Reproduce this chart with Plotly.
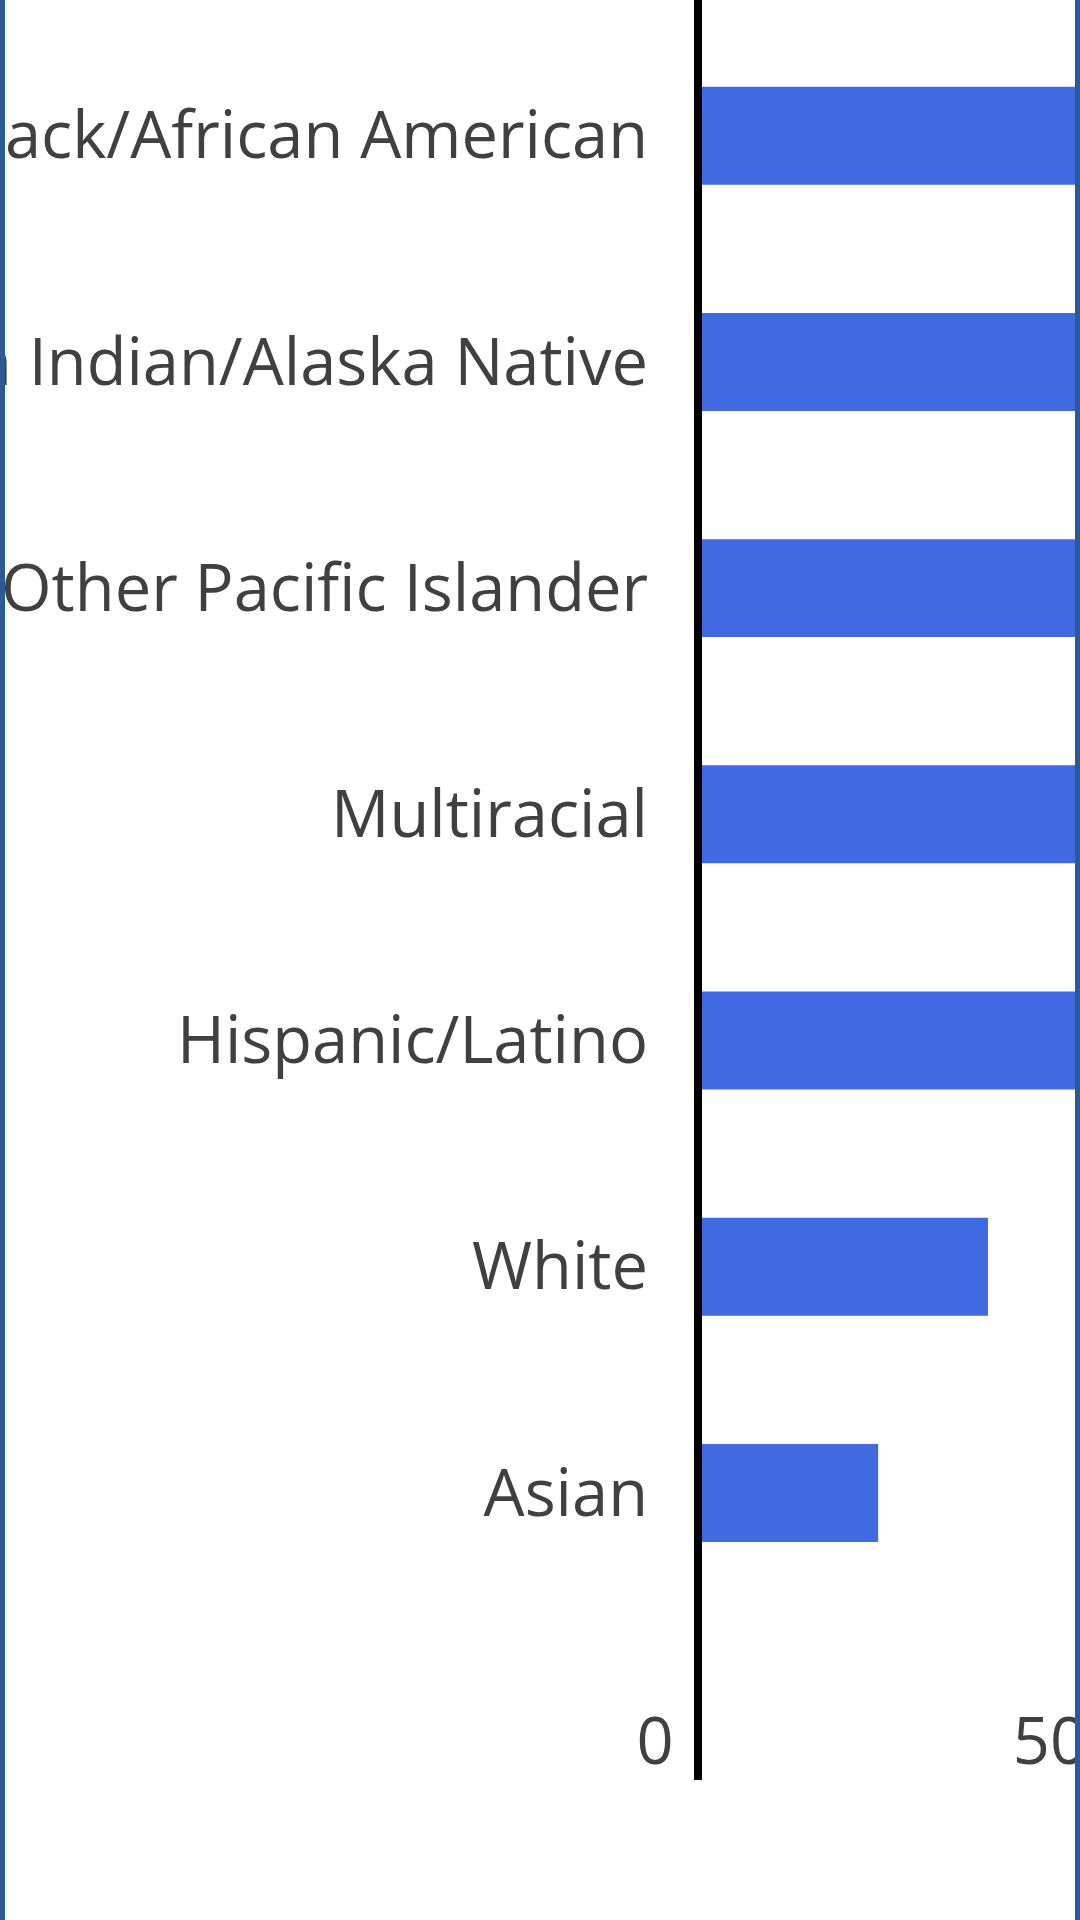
import plotly.graph_objects as go

# Data (top to bottom as displayed)
categories = [
    "Black/African American",
    "American Indian/Alaska Native",
    "Native Hawaiian/Other Pacific Islander",
    "Multiracial",
    "Hispanic/Latino",
    "White",
    "Asian",
]
values = [61, 57, 55, 53, 51, 36.2, 22.3]
x_tick_vals = [0, 50]

# Layout geometry (pixels)
FIG_W, FIG_H = 1200, 1920
SCREEN_W = 1080
M_L, M_R, M_T, M_B = 702, 0, 0, 140
PX_PER_UNIT = 7.9
plot_w = FIG_W - M_L - M_R
x_max = plot_w / PX_PER_UNIT

BAR_COLOR = "royalblue"
BORDER_COLOR = "#2b5a96"
FONT = dict(family="Open Sans", size=65, color="#404040")

fig = go.Figure(
    go.Bar(
        x=values,
        y=categories,
        orientation="h",
        marker=dict(color=BAR_COLOR, line=dict(width=0)),
        width=0.433,
        hoverinfo="skip",
    )
)

fig.update_layout(
    template="none",
    width=FIG_W,
    height=FIG_H,
    autosize=False,
    margin=dict(l=M_L, r=M_R, t=M_T, b=M_B, pad=0, autoexpand=False),
    paper_bgcolor="white",
    plot_bgcolor="white",
    showlegend=False,
    font=FONT,
)

fig.update_xaxes(
    automargin=False,
    range=[0, x_max],
    tickvals=x_tick_vals,
    showgrid=False,
    zeroline=False,
    showline=False,
    ticks="",
    tickfont=FONT,
    ticklabelposition="inside",
    ticklabeloverflow="allow",
    ticklabelshift=-47,
)

fig.update_yaxes(
    automargin=False,
    type="category",
    categoryorder="array",
    categoryarray=categories,
    range=[7.269, -0.600],
    showgrid=False,
    zeroline=False,
    showline=True,
    linecolor="black",
    linewidth=8,
    ticks="",
    tickfont=FONT,
    ticklabelstandoff=33,
)

# Blue frame edges at the left and right of the visible window
def px_to_paper(px):
    return (px - M_L) / plot_w

for x0, x1 in [(0, 5), (SCREEN_W - 5, SCREEN_W)]:
    fig.add_shape(
        type="rect",
        xref="paper", yref="paper",
        x0=px_to_paper(x0), x1=px_to_paper(x1),
        y0=-M_B / (FIG_H - M_T - M_B), y1=1 + M_T / (FIG_H - M_T - M_B),
        fillcolor=BORDER_COLOR, line=dict(width=0), layer="above",
    )

post = (
    "document.documentElement.style.overflow='hidden';"
    "document.body.style.overflow='hidden';"
    "document.body.style.margin='0';"
)
fig.write_html("out.html", post_script=post, config={"displayModeBar": False})
